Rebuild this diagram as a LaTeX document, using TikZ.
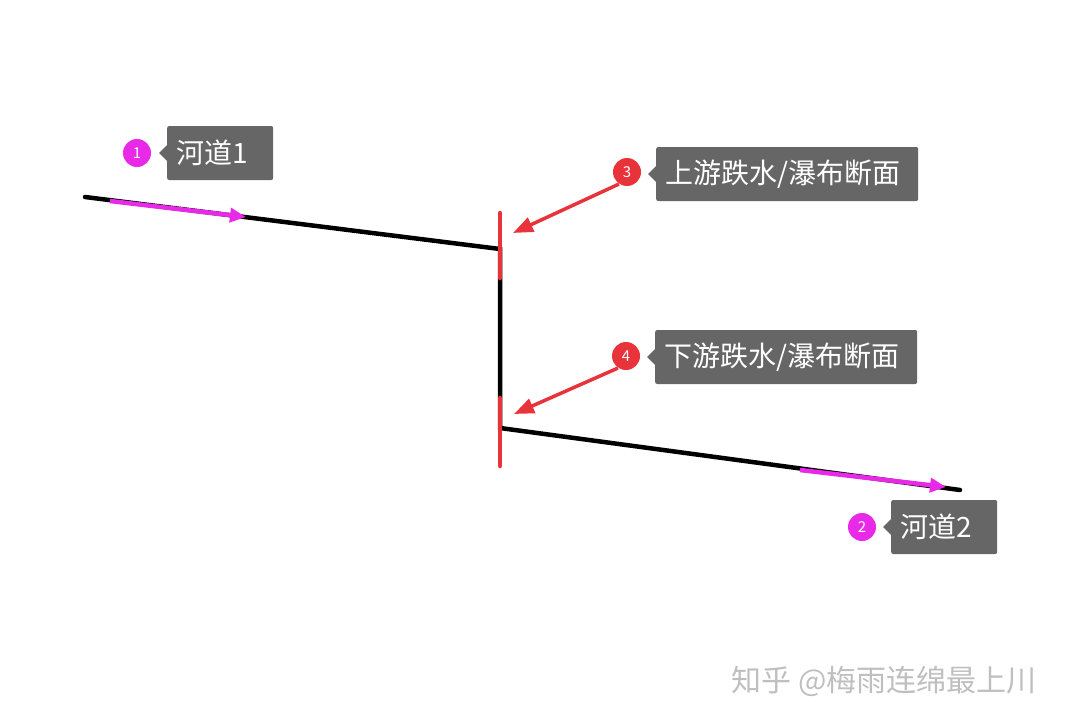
\documentclass[tikz,border=0pt]{standalone}
\usepackage{fontspec}
\setmainfont{Noto Sans CJK SC}
\usetikzlibrary{arrows.meta}
\definecolor{mag}{HTML}{E829E8}
\definecolor{rd}{HTML}{E8333A}
\definecolor{bx}{HTML}{666666}
\tikzset{
  river/.style={line width=4.5pt,black,line cap=round},
  sect/.style={line width=4.5pt,rd,line cap=round},
  flow/.style={line width=4.5pt,mag,-{Triangle[length=16pt,width=14pt]}},
  pointer/.style={line width=3.5pt,rd,-{Triangle[length=20pt,width=15pt]}},
  badge/.style={circle,minimum size=28pt,inner sep=0pt,text=white,font=\fontsize{15}{15}\selectfont},
  tip/.style={fill=bx,rounded corners=2pt,text=white,inner xsep=9pt,minimum height=54pt,align=left,font=\fontsize{28}{28}\selectfont},
}
\begin{document}
\begin{tikzpicture}[x=1pt,y=-1pt]
\useasboundingbox (0,0) rectangle (1074,725);
\coordinate (r1s) at (85,197);
\coordinate (j1) at (500,249);
\coordinate (j2) at (500,428);
\coordinate (r2e) at (960,490);
\draw[river] (r1s) -- (j1) -- (j2) -- (r2e);
\coordinate (u1) at (500,213); \coordinate (u2) at (500,278);
\coordinate (d1) at (500,398); \coordinate (d2) at (500,466);
\draw[sect] (u1) -- (u2);
\draw[sect] (d1) -- (d2);
\coordinate (f1a) at (110,201); \coordinate (f1b) at (246,217);
\coordinate (f2a) at (800,470); \coordinate (f2b) at (946,487);
\draw[flow] (f1a) -- (f1b);
\draw[flow] (f2a) -- (f2b);
% callouts
\node[badge,fill=mag] (b1) at (137,153) {1};
\node[tip,anchor=west,text width=88pt] (t1) at (167,153) {河道1};
\node[badge,fill=mag] (b2) at (862,527) {2};
\node[tip,anchor=west,text width=88pt] (t2) at (891,527) {河道2};
\node[badge,fill=rd] (b3) at (627,172) {3};
\node[tip,anchor=west,text width=244pt] (t3) at (656,174) {上游跌水/瀑布断面};
\node[badge,fill=rd] (b4) at (626,356) {4};
\node[tip,anchor=west,text width=244pt] (t4) at (655,357) {下游跌水/瀑布断面};
\foreach \t in {t1,t2,t3,t4}{
  \fill[bx] ([yshift=-8pt]\t.west) -- ([xshift=-8pt]\t.west) -- ([yshift=8pt]\t.west) -- cycle;
}
\coordinate (a3) at (513,233); \coordinate (a4) at (514,414);
\draw[pointer] (b3.south west) ++(2,2) -- (a3);
\draw[pointer] (b4.south west) ++(2,2) -- (a4);
\node[text=black!25,font=\fontsize{30}{30}\selectfont] (wm) at (884,681) {知乎 @梅雨连绵最上川};
\end{tikzpicture}
\end{document}
